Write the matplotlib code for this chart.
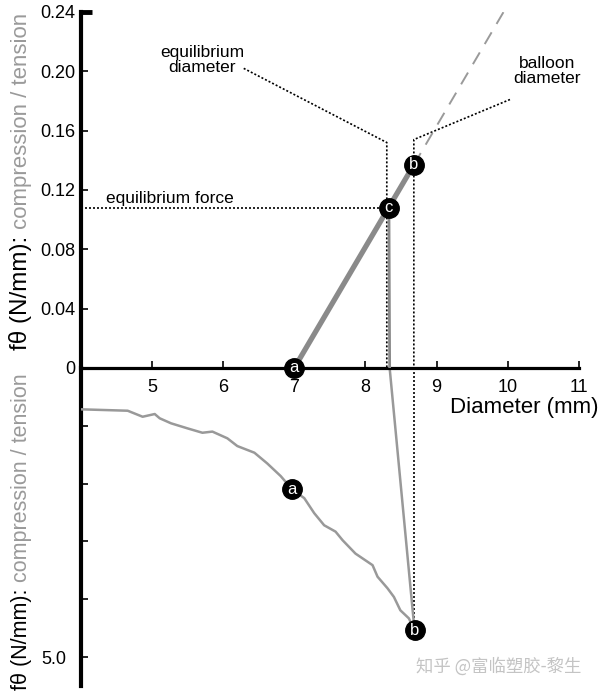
import matplotlib
matplotlib.use('Agg')
import matplotlib.pyplot as plt

plt.rcParams['font.family'] = ['Liberation Sans', 'Noto Sans CJK SC', 'DejaVu Sans']

# ---- data ----
# upper panel: inflation (tension) line a -> b, and its dashed extension
infl_x = [7.0, 8.68]
infl_f = [0.0, 0.137]
ext_x = [8.68, 9.94]
ext_f = [0.137, 0.24]

# drop from equilibrium point c down to zero
drop_x = [8.33, 8.34]
drop_f = [0.108, 0.0]

eq_force = 0.108
eq_point = (8.33, 0.108)

# leader lines of the two notes
eq_lead_x = [6.29, 8.30, 8.30]
eq_lead_f = [0.202, 0.152, 0.0]
bal_lead_x = [10.03, 8.68, 8.68]
bal_lead_f = [0.181, 0.154, 0.0]

# lower panel: compression curve
comp_x = [4.01, 4.66, 4.87, 5.04, 5.11, 5.27, 5.50, 5.71, 5.85, 6.06, 6.20,
          6.44, 6.62, 6.81, 6.97, 7.14, 7.28, 7.42, 7.58, 7.68, 7.86, 8.10,
          8.17, 8.31, 8.40, 8.49, 8.61, 8.69]
comp_f = [0.715, 0.739, 0.843, 0.796, 0.870, 0.957, 1.044, 1.12, 1.10, 1.216,
          1.35, 1.465, 1.65, 1.87, 2.10, 2.25, 2.51, 2.72, 2.83, 2.98, 3.21,
          3.41, 3.61, 3.81, 3.96, 4.19, 4.33, 4.54]
ret_x = [8.34, 8.69]
ret_f = [0.0, 4.54]
bal_low_x = [8.68, 8.68]
bal_low_f = [0.0, 4.54]

comp_a = (6.97, 2.10)
comp_b = (8.69, 4.54)

x_ticks = [5, 6, 7, 8, 9, 10, 11]
f_ticks = [0, 0.04, 0.08, 0.12, 0.16, 0.20, 0.24]
f_labels = ['0', '0.04', '0.08', '0.12', '0.16', '0.20', '0.24']
c_ticks = [1, 2, 3, 4, 5]
c_labels = ['', '', '', '', '5.0']

W, H = 600, 691
fig = plt.figure(figsize=(6, 6.91), dpi=100)

ax = fig.add_axes([80.7 / W, (H - 368) / H, 498.3 / W, 356 / H])
ax2 = fig.add_axes([80.7 / W, (H - 686) / H, 498.3 / W, 318 / H])
ax.set_zorder(ax2.get_zorder() + 1)
ax.patch.set_visible(False)
ax2.patch.set_visible(False)

line_gray = '#8a8a8a'
dots = (0, (1.2, 1.2))

# upper panel
ax.plot(infl_x, infl_f, color=line_gray, lw=3.8, solid_capstyle='butt', zorder=3)
ax.plot(ext_x, ext_f, color='#9a9a9a', lw=1.4, dashes=(7, 5), zorder=3)
ax.plot(drop_x, drop_f, color=line_gray, lw=2.0, zorder=3)
ax.plot([4.0, eq_point[0]], [eq_force, eq_force], color='black', lw=1.2, linestyle=dots)
ax.plot(eq_lead_x, eq_lead_f, color='black', lw=1.2, linestyle=dots)
ax.plot(bal_lead_x, bal_lead_f, color='black', lw=1.2, linestyle=dots)


def marker(axis, x, y, letter):
    axis.plot([x], [y], 'o', color='black', markersize=14, zorder=5, clip_on=False)
    axis.text(x, y, letter, color='white', fontsize=12, ha='center', va='center',
              zorder=6, clip_on=False)


marker(ax, infl_x[0], infl_f[0], 'a')
marker(ax, infl_x[1], infl_f[1], 'b')
marker(ax, eq_point[0], eq_point[1], 'c')

ax.text(5.71, 0.2076, 'equilibrium\ndiameter', fontsize=12.5, ha='center', va='center',
        linespacing=1.05)
ax.text(10.55, 0.2002, 'balloon\ndiameter', fontsize=12.5, ha='center', va='center',
        linespacing=1.05)
ax.text(4.36, 0.1146, 'equilibrium force', fontsize=12.5, ha='left', va='center')

ax.set_xlim(4.0, 11.0)
ax.set_ylim(0, 0.24)
ax.set_xticks(x_ticks)
ax.set_yticks(f_ticks)
ax.set_yticklabels(f_labels)
for s in ['top', 'right']:
    ax.spines[s].set_visible(False)
ax.spines['left'].set_linewidth(3.0)
ax.spines['bottom'].set_linewidth(2.3)
ax.tick_params(axis='x', direction='in', length=5, width=1.2, pad=8, labelsize=13)
ax.tick_params(axis='y', direction='in', length=5, width=1.2, pad=4, labelsize=13)
top_tick = ax.yaxis.get_major_ticks()[-1]
top_tick.tick1line.set_markersize(8)
top_tick.tick1line.set_markeredgewidth(3.5)

# lower panel
ax2.plot(comp_x, comp_f, color='#999999', lw=1.8, zorder=3)
ax2.plot(ret_x, ret_f, color='#999999', lw=1.8, zorder=3)
ax2.plot(bal_low_x, bal_low_f, color='black', lw=1.2, linestyle=dots)
marker(ax2, comp_a[0], comp_a[1], 'a')
marker(ax2, comp_b[0], comp_b[1], 'b')

ax2.set_xlim(4.0, 11.0)
ax2.set_ylim(5.5, 0)
ax2.set_xticks([])
ax2.set_yticks(c_ticks)
ax2.set_yticklabels(c_labels)
for s in ['top', 'right', 'bottom']:
    ax2.spines[s].set_visible(False)
ax2.spines['left'].set_linewidth(3.0)
ax2.tick_params(axis='y', direction='in', length=5, width=1.2, pad=10, labelsize=13)

fig.text(598 / W, 1 - 408 / H, 'Diameter (mm)', fontsize=16, ha='right', va='center')

# y labels, black and gray pieces stacked along the rotated baseline
renderer = fig.canvas.get_renderer()


def rotated_label(x_px, top_px, parts):
    y = top_px
    for s, col, size in parts:
        t = fig.text(x_px / W, 1 - y / H, s, rotation=90, rotation_mode='anchor',
                     ha='right', va='baseline', color=col, fontsize=size)
        y += t.get_window_extent(renderer).height + 7


rotated_label(27, 13, [('compression / tension', '#9a9a9a', 16),
                       ('fθ (N/mm):', 'black', 17.5)])
rotated_label(27, 373, [('compression / tension', '#9a9a9a', 15.5),
                        ('fθ (N/mm):', 'black', 15.5)])

fig.text(499 / W, 1 - 666 / H, '知乎 @富临塑胶-黎生', fontsize=12.5, color='#c4c4c4',
         ha='center', va='center', family=['Noto Sans CJK SC', 'DejaVu Sans'])

fig.savefig('out.png', dpi=100)
